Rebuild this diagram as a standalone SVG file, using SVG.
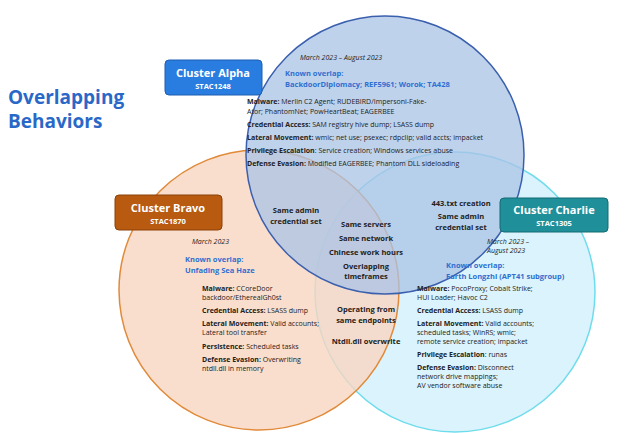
<svg xmlns="http://www.w3.org/2000/svg" width="633" height="433" viewBox="0 0 633 433">
<style>
text{font-family:"Open Sans","Liberation Sans",sans-serif;fill:#222;font-size:7px}
.b{font-weight:bold}
.i{font-style:italic}
.k{fill:#2f6fd0;font-weight:bold;font-size:7.5px}
.c{text-anchor:middle;font-weight:bold;font-size:7.5px}
.t{fill:#fff;font-weight:bold;text-anchor:middle;font-size:11px}
.s{fill:#fff;font-weight:bold;text-anchor:middle;font-size:7.5px}
</style>
<rect width="633" height="433" fill="#fff"/>
<text x="8" y="104" style="font-size:19px;font-weight:bold;fill:#2a68c8">Overlapping</text>
<text x="8" y="128" style="font-size:19px;font-weight:bold;fill:#2a68c8">Behaviors</text>
<g id="circles">
<circle cx="455" cy="292" r="140" fill="#d3f1fb" fill-opacity="0.85" stroke="#6fdcec" stroke-width="1.5"/>
<circle cx="259" cy="290" r="140" fill="#f9d6c0" fill-opacity="0.8" stroke="#e08a3a" stroke-width="1.5"/>
<circle cx="385" cy="155" r="139" fill="#a9c3e6" fill-opacity="0.75" stroke="#3a5fae" stroke-width="1.5"/>
</g>
<g id="alpha">
<rect x="165" y="60" width="97" height="35" rx="4" fill="#2a7de0" stroke="#1c5fb0"/>
<text class="t" x="213" y="77">Cluster Alpha</text>
<text class="s" x="213" y="89">STAC1248</text>
<text class="i" x="300" y="60">March 2023 – August 2023</text>
<text class="k" x="285" y="76">Known overlap:</text>
<text class="k" x="285" y="87">BackdoorDiplomacy; REF5961; Worok; TA428</text>
<text x="247" y="104"><tspan class="b">Malware:</tspan> Merlin C2 Agent; RUDEBIRD/Impersoni-Fake-</text>
<text x="247" y="114">Ator; PhantomNet; PowHeartBeat; EAGERBEE</text>
<text x="247" y="127"><tspan class="b">Credential Access:</tspan> SAM registry hive dump; LSASS dump</text>
<text x="247" y="140"><tspan class="b">Lateral Movement:</tspan> wmic; net use; psexec; rdpclip; valid accts; impacket</text>
<text x="247" y="153"><tspan class="b">Privilege Escalation</tspan>: Service creation; Windows services abuse</text>
<text x="247" y="166"><tspan class="b">Defense Evasion:</tspan> Modified EAGERBEE; Phantom DLL sideloading</text>
</g>
<g id="bravo">
<rect x="115" y="195" width="107" height="35" rx="4" fill="#b85a10" stroke="#8a4008"/>
<text class="t" x="168" y="212">Cluster Bravo</text>
<text class="s" x="168" y="224">STAC1870</text>
<text class="i" x="192" y="244">March 2023</text>
<text class="k" x="185" y="262">Known overlap:</text>
<text class="k" x="185" y="273">Unfading Sea Haze</text>
<text x="202" y="291"><tspan class="b">Malware:</tspan> CCoreDoor</text>
<text x="202" y="300">backdoor/EtherealGh0st</text>
<text x="202" y="313"><tspan class="b">Credential Access:</tspan> LSASS dump</text>
<text x="202" y="326"><tspan class="b">Lateral Movement:</tspan> Valid accounts;</text>
<text x="202" y="335">Lateral tool transfer</text>
<text x="202" y="349"><tspan class="b">Persistence:</tspan> Scheduled tasks</text>
<text x="202" y="362"><tspan class="b">Defense Evasion:</tspan> Overwriting</text>
<text x="202" y="371">ntdll.dll in memory</text>
</g>
<g id="charlie">
<rect x="500" y="198" width="108" height="34" rx="4" fill="#1f8f9a" stroke="#146a72"/>
<text class="t" x="554" y="214">Cluster Charlie</text>
<text class="s" x="554" y="226">STAC1305</text>
<text class="i" x="487" y="244">March 2023 –</text>
<text class="i" x="487" y="253">August 2023</text>
<text class="k" x="446" y="268">Known overlap:</text>
<text class="k" x="446" y="279">Earth Longzhi (APT41 subgroup)</text>
<text x="417" y="291"><tspan class="b">Malware:</tspan> PocoProxy; Cobalt Strike;</text>
<text x="417" y="300">HUI Loader; Havoc C2</text>
<text x="417" y="313"><tspan class="b">Credential Access:</tspan> LSASS dump</text>
<text x="417" y="326"><tspan class="b">Lateral Movement:</tspan> Valid accounts;</text>
<text x="417" y="335">scheduled tasks; WinRS; wmic;</text>
<text x="417" y="344">remote service creation; impacket</text>
<text x="417" y="357"><tspan class="b">Privilege Escalation</tspan>: runas</text>
<text x="417" y="370"><tspan class="b">Defense Evasion:</tspan> Disconnect</text>
<text x="417" y="379">network drive mappings;</text>
<text x="417" y="388">AV vendor software abuse</text>
</g>
<g id="overlaps">
<text class="c" x="296" y="213">Same admin</text>
<text class="c" x="296" y="224">credential set</text>
<text class="c" x="461" y="206">443.txt creation</text>
<text class="c" x="461" y="219">Same admin</text>
<text class="c" x="461" y="230">credential set</text>
<text class="c" x="366" y="227">Same servers</text>
<text class="c" x="366" y="241">Same network</text>
<text class="c" x="366" y="255">Chinese work hours</text>
<text class="c" x="366" y="269">Overlapping</text>
<text class="c" x="366" y="279">timeframes</text>
<text class="c" x="366" y="312">Operating from</text>
<text class="c" x="366" y="323">same endpoints</text>
<text class="c" x="366" y="344">Ntdll.dll overwrite</text>
</g>
</svg>
